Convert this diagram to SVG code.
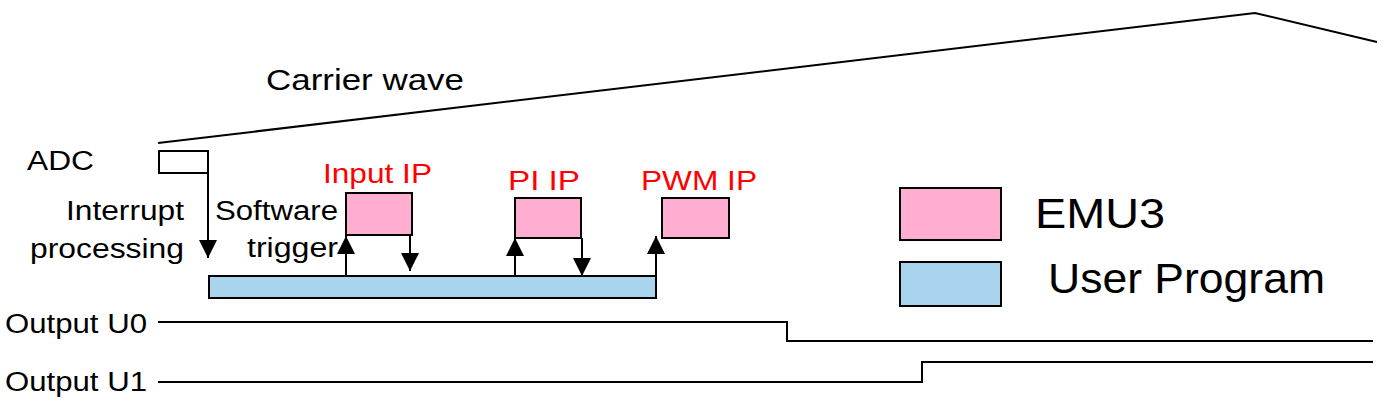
<svg xmlns="http://www.w3.org/2000/svg" width="1387" height="412" viewBox="0 0 1387 412">
<defs>
<style>
text{font-family:"Liberation Sans",Arial,sans-serif;font-size:27px;fill:#000}
.red{fill:#ff0000;font-size:28px}
.ln{stroke:#000;stroke-width:2;fill:none}
.emu{fill:#ffaed2;stroke:#000;stroke-width:2}
.usr{fill:#a9d4ee;stroke:#000;stroke-width:2}
</style>
<marker id="ar" viewBox="0 0 10 10" refX="10" refY="5" markerWidth="18" markerHeight="18" markerUnits="userSpaceOnUse" orient="auto"><path d="M0,0L10,5L0,10z" fill="#000"/></marker>
</defs>
<rect width="1387" height="412" fill="#fff"/>
<g id="carrier"><polyline class="ln" points="158,143 1255,13 1377,42"/><text x="266" y="90" style="font-size:30px" textLength="198" lengthAdjust="spacingAndGlyphs">Carrier wave</text></g>
<g id="adc"><rect x="159" y="151" width="49" height="22" fill="#fff" stroke="#000" stroke-width="2"/><text x="27" y="170" textLength="67" lengthAdjust="spacingAndGlyphs">ADC</text></g>
<g id="labels"><text x="66" y="220" textLength="118" lengthAdjust="spacingAndGlyphs">Interrupt</text><text x="30" y="258" textLength="154" lengthAdjust="spacingAndGlyphs">processing</text>
<text x="215" y="220" textLength="123" lengthAdjust="spacingAndGlyphs">Software</text><text x="247" y="257" textLength="91" lengthAdjust="spacingAndGlyphs">trigger</text></g>
<g id="input"><rect class="emu" x="346" y="193" width="66" height="42"/><text class="red" x="323" y="183" textLength="109" lengthAdjust="spacingAndGlyphs">Input IP</text></g>
<g id="pi"><rect class="emu" x="515" y="198" width="66" height="40"/><text class="red" x="508" y="190" textLength="72" lengthAdjust="spacingAndGlyphs">PI IP</text></g>
<g id="pwm"><rect class="emu" x="662" y="198" width="67" height="40"/><text class="red" x="641" y="190" textLength="116" lengthAdjust="spacingAndGlyphs">PWM IP</text></g>
<g id="bar"><rect class="usr" x="209" y="276" width="447" height="22"/></g>
<g id="connectors">
<line class="ln" x1="208" y1="173" x2="208" y2="258" marker-end="url(#ar)"/>
<line class="ln" x1="346" y1="276" x2="346" y2="236" marker-end="url(#ar)"/>
<line class="ln" x1="410" y1="235" x2="410" y2="271" marker-end="url(#ar)"/>
<line class="ln" x1="515" y1="276" x2="515" y2="238" marker-end="url(#ar)"/>
<line class="ln" x1="582" y1="238" x2="582" y2="276" marker-end="url(#ar)"/>
<line class="ln" x1="656" y1="276" x2="656" y2="236" marker-end="url(#ar)"/>
</g>
<g id="legend-emu"><rect class="emu" x="900" y="188" width="101" height="52"/><text x="1035" y="228" style="font-size:42px" textLength="130" lengthAdjust="spacingAndGlyphs">EMU3</text></g>
<g id="legend-user"><rect class="usr" x="900" y="262" width="101" height="44"/><text x="1048" y="293" style="font-size:42px" textLength="277" lengthAdjust="spacingAndGlyphs">User Program</text></g>
<g id="u0"><text x="5" y="333" textLength="142" lengthAdjust="spacingAndGlyphs">Output U0</text><polyline class="ln" points="158,322 787,322 787,341 1373,341"/></g>
<g id="u1"><text x="5" y="391" textLength="142" lengthAdjust="spacingAndGlyphs">Output U1</text><polyline class="ln" points="158,382 922,382 922,362 1373,362"/></g>
</svg>
